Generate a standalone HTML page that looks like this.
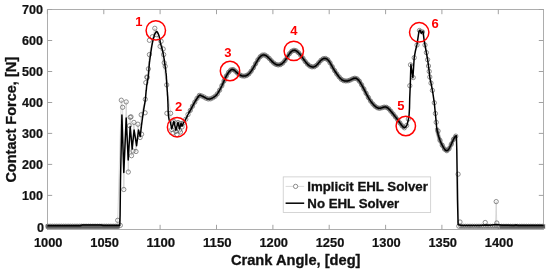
<!DOCTYPE html>
<html><head><meta charset="utf-8"><title>Contact Force vs Crank Angle</title>
<style>html,body{margin:0;padding:0;background:#fff}svg{display:block}</style></head>
<body>
<svg width="550" height="274" viewBox="0 0 550 274">
<rect width="550" height="274" fill="#fff"/>
<g fill="none" stroke="#adadad" stroke-width="1" shape-rendering="crispEdges">
<rect x="47.5" y="9.5" width="496.0" height="220.0"/>
</g>
<path d="M47.4 229.5V224.8 M47.4 9.5V14.2 M103.8 229.5V224.8 M103.8 9.5V14.2 M160.1 229.5V224.8 M160.1 9.5V14.2 M216.5 229.5V224.8 M216.5 9.5V14.2 M272.9 229.5V224.8 M272.9 9.5V14.2 M329.2 229.5V224.8 M329.2 9.5V14.2 M385.6 229.5V224.8 M385.6 9.5V14.2 M441.9 229.5V224.8 M441.9 9.5V14.2 M498.3 229.5V224.8 M498.3 9.5V14.2 M47.5 226.4H52.2 M543.5 226.4H538.8 M47.5 195.4H52.2 M543.5 195.4H538.8 M47.5 164.4H52.2 M543.5 164.4H538.8 M47.5 133.4H52.2 M543.5 133.4H538.8 M47.5 102.5H52.2 M543.5 102.5H538.8 M47.5 71.5H52.2 M543.5 71.5H538.8 M47.5 40.5H52.2 M543.5 40.5H538.8 M47.5 9.5H52.2 M543.5 9.5H538.8 " fill="none" stroke="#a2a2a2" stroke-width="1"/>
<g fill="none" stroke="#c8c8c8" stroke-width="0.7"><path d="M47.8 226.2 L116.5 226.2 L117.7 220.3 L121.3 100.2 L122.6 107.3 L123.8 189.5 L126.2 101.9 L128.3 172.0 L130.2 117.3 L131.5 155.7 L133.9 122.4 L136.0 151.5 L137.9 124.2 L140.1 137.5 L141.2 114.8 L145.3 99.3 L149.4 54.6 L154.8 28.3 L160.1 46.4 L166.7 84.9 L170.6 113.3 L171.8 129.5 L173.9 121.5 L175.9 131.5 L178.0 122.5 L179.5 130.0 L181.0 123.5 L182.0 127.0"/><path d="M458.1 174.2 L458.8 226.2 L495.5 226.2 L496.2 201.6 L496.8 226.2 L543.6 226.2"/></g>
<g fill="none" stroke-linecap="butt">
<path d="M45.8 226.5H119.6 M499.5 226.5H545.3" stroke="#b0b0b0" stroke-width="5.0"/>
<path d="M459.5 226.6H499.5" stroke="#c6c6c6" stroke-width="3.4"/>
<path d="M46.2 226.5H119.4 M500 226.5H545" stroke="#5c5c5c" stroke-width="3.7"/>
<path d="M189.0 112.6 L189.5 111.7 L190.0 110.9 L190.5 110.0 L191.0 109.1 L191.5 108.1 L192.0 107.2 L192.5 106.2 L193.0 105.3 L193.5 104.4 L194.0 103.4 L194.5 102.5 L195.0 101.7 L195.5 100.8 L196.0 100.0 L196.5 99.2 L197.0 98.5 L197.5 97.8 L198.0 97.0 L198.5 96.3 L199.0 95.7 L199.5 95.2 L200.0 95.2 L200.5 95.3 L201.0 95.6 L201.5 95.9 L202.0 96.1 L202.5 96.3 L203.0 96.5 L203.5 96.8 L204.0 97.0 L204.5 97.3 L205.0 97.6 L205.5 97.9 L206.0 98.2 L206.5 98.4 L207.0 98.7 L207.5 98.9 L208.0 99.0 L208.5 99.1 L209.0 99.1 L209.5 99.0 L210.0 98.9 L210.5 98.8 L211.0 98.6 L211.5 98.4 L212.0 98.2 L212.5 97.9 L213.0 97.7 L213.5 97.4 L214.0 97.0 L214.5 96.7 L215.0 96.3 L215.5 95.9 L216.0 95.5 L216.5 94.9 L217.0 94.3 L217.5 93.6 L218.0 92.9 L218.5 92.0 L219.0 91.2 L219.5 90.3 L220.0 89.4 L220.5 88.5 L221.0 87.5 L221.5 86.5 L222.0 85.5" stroke="#d4d4d4" stroke-width="3.7"/>
<path d="M189.0 112.6 L189.5 111.7 L190.0 110.9 L190.5 110.0 L191.0 109.1 L191.5 108.1 L192.0 107.2 L192.5 106.2 L193.0 105.3 L193.5 104.4 L194.0 103.4 L194.5 102.5 L195.0 101.7 L195.5 100.8 L196.0 100.0 L196.5 99.2 L197.0 98.5 L197.5 97.8 L198.0 97.0 L198.5 96.3 L199.0 95.7 L199.5 95.2 L200.0 95.2 L200.5 95.3 L201.0 95.6 L201.5 95.9 L202.0 96.1 L202.5 96.3 L203.0 96.5 L203.5 96.8 L204.0 97.0 L204.5 97.3 L205.0 97.6 L205.5 97.9 L206.0 98.2 L206.5 98.4 L207.0 98.7 L207.5 98.9 L208.0 99.0 L208.5 99.1 L209.0 99.1 L209.5 99.0 L210.0 98.9 L210.5 98.8 L211.0 98.6 L211.5 98.4 L212.0 98.2 L212.5 97.9 L213.0 97.7 L213.5 97.4 L214.0 97.0 L214.5 96.7 L215.0 96.3 L215.5 95.9 L216.0 95.5 L216.5 94.9 L217.0 94.3 L217.5 93.6 L218.0 92.9 L218.5 92.0 L219.0 91.2 L219.5 90.3 L220.0 89.4 L220.5 88.5 L221.0 87.5 L221.5 86.5 L222.0 85.5" stroke="#888" stroke-width="2.5"/>
<path d="M222.0 85.5 L222.5 84.4 L223.0 83.3 L223.5 82.2 L224.0 81.0 L224.5 79.8 L225.0 78.7 L225.5 77.6 L226.0 76.6 L226.5 75.7 L227.0 74.8 L227.5 74.0 L228.0 73.2 L228.5 72.5 L229.0 71.8 L229.5 71.2 L230.0 70.7 L230.5 70.2 L231.0 69.9 L231.5 69.6 L232.0 69.4 L232.5 69.4 L233.0 69.5 L233.5 69.7 L234.0 70.0 L234.5 70.3 L235.0 70.8 L235.5 71.2 L236.0 71.7 L236.5 72.2 L237.0 72.7 L237.5 73.1 L238.0 73.6 L238.5 74.0 L239.0 74.3 L239.5 74.7 L240.0 75.0 L240.5 75.3 L241.0 75.5 L241.5 75.7 L242.0 75.9 L242.5 76.0 L243.0 76.1 L243.5 76.1 L244.0 76.1 L244.5 76.1 L245.0 76.0 L245.5 75.9 L246.0 75.7 L246.5 75.5 L247.0 75.3 L247.5 75.0 L248.0 74.6 L248.5 74.2 L249.0 73.8 L249.5 73.2 L250.0 72.7 L250.5 72.1 L251.0 71.4 L251.5 70.7 L252.0 70.0 L252.5 69.2 L253.0 68.4 L253.5 67.5 L254.0 66.7 L254.5 65.8 L255.0 64.9 L255.5 63.9 L256.0 63.0 L256.5 62.1 L257.0 61.3 L257.5 60.4 L258.0 59.6 L258.5 58.8 L259.0 58.1 L259.5 57.5 L260.0 56.9 L260.5 56.4 L261.0 56.0 L261.5 55.6 L262.0 55.3 L262.5 55.1 L263.0 55.0 L263.5 54.9 L264.0 54.9 L264.5 55.0 L265.0 55.2 L265.5 55.4 L266.0 55.6 L266.5 56.0 L267.0 56.3 L267.5 56.8 L268.0 57.2 L268.5 57.7 L269.0 58.2 L269.5 58.7 L270.0 59.3 L270.5 59.8 L271.0 60.3 L271.5 60.9 L272.0 61.4 L272.5 61.9 L273.0 62.4 L273.5 62.8 L274.0 63.2 L274.5 63.6 L275.0 63.9 L275.5 64.2 L276.0 64.5 L276.5 64.7 L277.0 64.8 L277.5 64.9 L278.0 65.0 L278.5 65.0 L279.0 64.9 L279.5 64.9 L280.0 64.7 L280.5 64.5 L281.0 64.3 L281.5 64.0 L282.0 63.7 L282.5 63.3 L283.0 62.8 L283.5 62.3 L284.0 61.7 L284.5 61.1 L285.0 60.4 L285.5 59.7 L286.0 59.0 L286.5 58.2 L287.0 57.4 L287.5 56.6 L288.0 55.9 L288.5 55.1 L289.0 54.4 L289.5 53.7 L290.0 53.0 L290.5 52.4 L291.0 51.9 L291.5 51.4 L292.0 51.1 L292.5 50.7 L293.0 50.5 L293.5 50.4 L294.0 50.3 L294.5 50.3 L295.0 50.4 L295.5 50.5 L296.0 50.8 L296.5 51.0 L297.0 51.4 L297.5 51.8 L298.0 52.2 L298.5 52.7 L299.0 53.2 L299.5 53.8 L300.0 54.4 L300.5 55.0 L301.0 55.6 L301.5 56.3 L302.0 57.0 L302.5 57.7 L303.0 58.4 L303.5 59.1 L304.0 59.8 L304.5 60.5 L305.0 61.1 L305.5 61.8 L306.0 62.4 L306.5 63.0 L307.0 63.6 L307.5 64.1 L308.0 64.6 L308.5 65.1 L309.0 65.5 L309.5 65.8 L310.0 66.1 L310.5 66.4 L311.0 66.6 L311.5 66.7 L312.0 66.9 L312.5 66.9 L313.0 66.9 L313.5 66.9 L314.0 66.8 L314.5 66.6 L315.0 66.4 L315.5 66.1 L316.0 65.7 L316.5 65.3 L317.0 64.8 L317.5 64.3 L318.0 63.7 L318.5 63.1 L319.0 62.5 L319.5 61.9 L320.0 61.3 L320.5 60.8 L321.0 60.3 L321.5 59.8 L322.0 59.5 L322.5 59.1 L323.0 58.8 L323.5 58.6 L324.0 58.5 L324.5 58.4 L325.0 58.4 L325.5 58.5 L326.0 58.6 L326.5 58.9 L327.0 59.2 L327.5 59.5 L328.0 60.0 L328.5 60.6 L329.0 61.2 L329.5 61.9 L330.0 62.7 L330.5 63.5 L331.0 64.4 L331.5 65.3 L332.0 66.2 L332.5 67.1 L333.0 68.0 L333.5 68.9 L334.0 69.7 L334.5 70.5 L335.0 71.3 L335.5 72.0 L336.0 72.8 L336.5 73.5 L337.0 74.2 L337.5 74.9 L338.0 75.6 L338.5 76.2 L339.0 76.9 L339.5 77.5 L340.0 78.0 L340.5 78.5 L341.0 79.0 L341.5 79.4 L342.0 79.8 L342.5 80.1 L343.0 80.4 L343.5 80.6 L344.0 80.7 L344.5 80.9 L345.0 80.9 L345.5 81.0 L346.0 81.0 L346.5 81.0 L347.0 81.0 L347.5 80.9 L348.0 80.8 L348.5 80.7 L349.0 80.5 L349.5 80.4 L350.0 80.2 L350.5 79.9 L351.0 79.7 L351.5 79.4 L352.0 79.2 L352.5 78.9 L353.0 78.7 L353.5 78.5 L354.0 78.3 L354.5 78.2 L355.0 78.2 L355.5 78.2 L356.0 78.3 L356.5 78.5 L357.0 78.8 L357.5 79.2 L358.0 79.6 L358.5 80.1 L359.0 80.7 L359.5 81.4 L360.0 82.1 L360.5 82.9 L361.0 83.8 L361.5 84.6 L362.0 85.5 L362.5 86.4 L363.0 87.3 L363.5 88.3 L364.0 89.2 L364.5 90.2 L365.0 91.2 L365.5 92.1 L366.0 93.1 L366.5 94.1 L367.0 95.0 L367.5 95.9 L368.0 96.8 L368.5 97.7 L369.0 98.6 L369.5 99.4 L370.0 100.1 L370.5 100.9 L371.0 101.6 L371.5 102.3 L372.0 102.9 L372.5 103.5 L373.0 104.1 L373.5 104.7 L374.0 105.2 L374.5 105.7 L375.0 106.1 L375.5 106.6 L376.0 106.9 L376.5 107.3 L377.0 107.6 L377.5 107.8 L378.0 108.0 L378.5 108.2 L379.0 108.3 L379.5 108.3 L380.0 108.3 L380.5 108.2 L381.0 108.1 L381.5 107.9 L382.0 107.7 L382.5 107.6 L383.0 107.4 L383.5 107.2 L384.0 107.1 L384.5 107.0 L385.0 107.0 L385.5 107.0 L386.0 107.1 L386.5 107.3 L387.0 107.5 L387.5 107.8 L388.0 108.2 L388.5 108.6 L389.0 109.1 L389.5 109.6 L390.0 110.2 L390.5 110.8 L391.0 111.4 L391.5 112.0 L392.0 112.6 L392.5 113.2 L393.0 113.8 L393.5 114.5 L394.0 115.1 L394.5 115.7 L395.0 116.4 L395.5 117.0 L396.0 117.6 L396.5 118.3 L397.0 118.9 L397.5 119.6 L398.0 120.3 L398.5 121.0 L399.0 121.7 L399.5 122.4 L400.0 123.1 L400.5 123.7 L401.0 124.4 L401.5 125.1 L402.0 125.7 L402.5 126.2 L403.0 126.8 L403.5 127.2 L404.0 127.5 L404.5 127.8 M436.7 128.0 L437.2 130.5 L437.7 132.7 L438.2 134.7 L438.7 136.5 L439.2 138.1 L439.7 139.5 L440.2 140.8 L440.7 142.0 L441.2 143.1 L441.7 144.1 L442.2 145.2 L442.7 146.1 L443.2 147.0 L443.7 147.9 L444.2 148.6 L444.7 149.3 L445.2 149.9 L445.7 150.3 L446.2 150.6 L446.7 150.7 L447.2 150.6 L447.7 150.3 L448.2 149.8 L448.7 149.2 L449.2 148.4 L449.7 147.5 L450.2 146.5 L450.7 145.5 L451.2 144.4 L451.7 143.3 L452.2 142.1 L452.7 141.1 L453.2 140.0 L453.7 139.0 L454.2 138.1 L454.7 137.3 L455.2 136.6 L455.7 136.1 L456.2 135.8" stroke="#cacaca" stroke-width="4.2"/>
<path d="M222.0 85.5 L222.5 84.4 L223.0 83.3 L223.5 82.2 L224.0 81.0 L224.5 79.8 L225.0 78.7 L225.5 77.6 L226.0 76.6 L226.5 75.7 L227.0 74.8 L227.5 74.0 L228.0 73.2 L228.5 72.5 L229.0 71.8 L229.5 71.2 L230.0 70.7 L230.5 70.2 L231.0 69.9 L231.5 69.6 L232.0 69.4 L232.5 69.4 L233.0 69.5 L233.5 69.7 L234.0 70.0 L234.5 70.3 L235.0 70.8 L235.5 71.2 L236.0 71.7 L236.5 72.2 L237.0 72.7 L237.5 73.1 L238.0 73.6 L238.5 74.0 L239.0 74.3 L239.5 74.7 L240.0 75.0 L240.5 75.3 L241.0 75.5 L241.5 75.7 L242.0 75.9 L242.5 76.0 L243.0 76.1 L243.5 76.1 L244.0 76.1 L244.5 76.1 L245.0 76.0 L245.5 75.9 L246.0 75.7 L246.5 75.5 L247.0 75.3 L247.5 75.0 L248.0 74.6 L248.5 74.2 L249.0 73.8 L249.5 73.2 L250.0 72.7 L250.5 72.1 L251.0 71.4 L251.5 70.7 L252.0 70.0 L252.5 69.2 L253.0 68.4 L253.5 67.5 L254.0 66.7 L254.5 65.8 L255.0 64.9 L255.5 63.9 L256.0 63.0 L256.5 62.1 L257.0 61.3 L257.5 60.4 L258.0 59.6 L258.5 58.8 L259.0 58.1 L259.5 57.5 L260.0 56.9 L260.5 56.4 L261.0 56.0 L261.5 55.6 L262.0 55.3 L262.5 55.1 L263.0 55.0 L263.5 54.9 L264.0 54.9 L264.5 55.0 L265.0 55.2 L265.5 55.4 L266.0 55.6 L266.5 56.0 L267.0 56.3 L267.5 56.8 L268.0 57.2 L268.5 57.7 L269.0 58.2 L269.5 58.7 L270.0 59.3 L270.5 59.8 L271.0 60.3 L271.5 60.9 L272.0 61.4 L272.5 61.9 L273.0 62.4 L273.5 62.8 L274.0 63.2 L274.5 63.6 L275.0 63.9 L275.5 64.2 L276.0 64.5 L276.5 64.7 L277.0 64.8 L277.5 64.9 L278.0 65.0 L278.5 65.0 L279.0 64.9 L279.5 64.9 L280.0 64.7 L280.5 64.5 L281.0 64.3 L281.5 64.0 L282.0 63.7 L282.5 63.3 L283.0 62.8 L283.5 62.3 L284.0 61.7 L284.5 61.1 L285.0 60.4 L285.5 59.7 L286.0 59.0 L286.5 58.2 L287.0 57.4 L287.5 56.6 L288.0 55.9 L288.5 55.1 L289.0 54.4 L289.5 53.7 L290.0 53.0 L290.5 52.4 L291.0 51.9 L291.5 51.4 L292.0 51.1 L292.5 50.7 L293.0 50.5 L293.5 50.4 L294.0 50.3 L294.5 50.3 L295.0 50.4 L295.5 50.5 L296.0 50.8 L296.5 51.0 L297.0 51.4 L297.5 51.8 L298.0 52.2 L298.5 52.7 L299.0 53.2 L299.5 53.8 L300.0 54.4 L300.5 55.0 L301.0 55.6 L301.5 56.3 L302.0 57.0 L302.5 57.7 L303.0 58.4 L303.5 59.1 L304.0 59.8 L304.5 60.5 L305.0 61.1 L305.5 61.8 L306.0 62.4 L306.5 63.0 L307.0 63.6 L307.5 64.1 L308.0 64.6 L308.5 65.1 L309.0 65.5 L309.5 65.8 L310.0 66.1 L310.5 66.4 L311.0 66.6 L311.5 66.7 L312.0 66.9 L312.5 66.9 L313.0 66.9 L313.5 66.9 L314.0 66.8 L314.5 66.6 L315.0 66.4 L315.5 66.1 L316.0 65.7 L316.5 65.3 L317.0 64.8 L317.5 64.3 L318.0 63.7 L318.5 63.1 L319.0 62.5 L319.5 61.9 L320.0 61.3 L320.5 60.8 L321.0 60.3 L321.5 59.8 L322.0 59.5 L322.5 59.1 L323.0 58.8 L323.5 58.6 L324.0 58.5 L324.5 58.4 L325.0 58.4 L325.5 58.5 L326.0 58.6 L326.5 58.9 L327.0 59.2 L327.5 59.5 L328.0 60.0 L328.5 60.6 L329.0 61.2 L329.5 61.9 L330.0 62.7 L330.5 63.5 L331.0 64.4 L331.5 65.3 L332.0 66.2 L332.5 67.1 L333.0 68.0 L333.5 68.9 L334.0 69.7 L334.5 70.5 L335.0 71.3 L335.5 72.0 L336.0 72.8 L336.5 73.5 L337.0 74.2 L337.5 74.9 L338.0 75.6 L338.5 76.2 L339.0 76.9 L339.5 77.5 L340.0 78.0 L340.5 78.5 L341.0 79.0 L341.5 79.4 L342.0 79.8 L342.5 80.1 L343.0 80.4 L343.5 80.6 L344.0 80.7 L344.5 80.9 L345.0 80.9 L345.5 81.0 L346.0 81.0 L346.5 81.0 L347.0 81.0 L347.5 80.9 L348.0 80.8 L348.5 80.7 L349.0 80.5 L349.5 80.4 L350.0 80.2 L350.5 79.9 L351.0 79.7 L351.5 79.4 L352.0 79.2 L352.5 78.9 L353.0 78.7 L353.5 78.5 L354.0 78.3 L354.5 78.2 L355.0 78.2 L355.5 78.2 L356.0 78.3 L356.5 78.5 L357.0 78.8 L357.5 79.2 L358.0 79.6 L358.5 80.1 L359.0 80.7 L359.5 81.4 L360.0 82.1 L360.5 82.9 L361.0 83.8 L361.5 84.6 L362.0 85.5 L362.5 86.4 L363.0 87.3 L363.5 88.3 L364.0 89.2 L364.5 90.2 L365.0 91.2 L365.5 92.1 L366.0 93.1 L366.5 94.1 L367.0 95.0 L367.5 95.9 L368.0 96.8 L368.5 97.7 L369.0 98.6 L369.5 99.4 L370.0 100.1 L370.5 100.9 L371.0 101.6 L371.5 102.3 L372.0 102.9 L372.5 103.5 L373.0 104.1 L373.5 104.7 L374.0 105.2 L374.5 105.7 L375.0 106.1 L375.5 106.6 L376.0 106.9 L376.5 107.3 L377.0 107.6 L377.5 107.8 L378.0 108.0 L378.5 108.2 L379.0 108.3 L379.5 108.3 L380.0 108.3 L380.5 108.2 L381.0 108.1 L381.5 107.9 L382.0 107.7 L382.5 107.6 L383.0 107.4 L383.5 107.2 L384.0 107.1 L384.5 107.0 L385.0 107.0 L385.5 107.0 L386.0 107.1 L386.5 107.3 L387.0 107.5 L387.5 107.8 L388.0 108.2 L388.5 108.6 L389.0 109.1 L389.5 109.6 L390.0 110.2 L390.5 110.8 L391.0 111.4 L391.5 112.0 L392.0 112.6 L392.5 113.2 L393.0 113.8 L393.5 114.5 L394.0 115.1 L394.5 115.7 L395.0 116.4 L395.5 117.0 L396.0 117.6 L396.5 118.3 L397.0 118.9 L397.5 119.6 L398.0 120.3 L398.5 121.0 L399.0 121.7 L399.5 122.4 L400.0 123.1 L400.5 123.7 L401.0 124.4 L401.5 125.1 L402.0 125.7 L402.5 126.2 L403.0 126.8 L403.5 127.2 L404.0 127.5 L404.5 127.8 M436.7 128.0 L437.2 130.5 L437.7 132.7 L438.2 134.7 L438.7 136.5 L439.2 138.1 L439.7 139.5 L440.2 140.8 L440.7 142.0 L441.2 143.1 L441.7 144.1 L442.2 145.2 L442.7 146.1 L443.2 147.0 L443.7 147.9 L444.2 148.6 L444.7 149.3 L445.2 149.9 L445.7 150.3 L446.2 150.6 L446.7 150.7 L447.2 150.6 L447.7 150.3 L448.2 149.8 L448.7 149.2 L449.2 148.4 L449.7 147.5 L450.2 146.5 L450.7 145.5 L451.2 144.4 L451.7 143.3 L452.2 142.1 L452.7 141.1 L453.2 140.0 L453.7 139.0 L454.2 138.1 L454.7 137.3 L455.2 136.6 L455.7 136.1 L456.2 135.8" stroke="#7a7a7a" stroke-width="3.0"/>
</g>
<g fill="none" stroke="#606060" stroke-width="0.7">
<circle cx="47.8" cy="226.2" r="2.15"/>
<circle cx="50.1" cy="226.2" r="2.15"/>
<circle cx="52.3" cy="226.2" r="2.15"/>
<circle cx="54.6" cy="226.2" r="2.15"/>
<circle cx="56.8" cy="226.2" r="2.15"/>
<circle cx="59.1" cy="226.2" r="2.15"/>
<circle cx="61.3" cy="226.2" r="2.15"/>
<circle cx="63.6" cy="226.2" r="2.15"/>
<circle cx="65.8" cy="226.2" r="2.15"/>
<circle cx="68.1" cy="226.2" r="2.15"/>
<circle cx="70.3" cy="226.2" r="2.15"/>
<circle cx="72.6" cy="226.2" r="2.15"/>
<circle cx="74.9" cy="226.2" r="2.15"/>
<circle cx="77.1" cy="226.2" r="2.15"/>
<circle cx="79.4" cy="226.2" r="2.15"/>
<circle cx="81.6" cy="226.2" r="2.15"/>
<circle cx="83.9" cy="226.2" r="2.15"/>
<circle cx="86.1" cy="226.2" r="2.15"/>
<circle cx="88.4" cy="226.2" r="2.15"/>
<circle cx="90.6" cy="226.2" r="2.15"/>
<circle cx="92.9" cy="226.2" r="2.15"/>
<circle cx="95.1" cy="226.2" r="2.15"/>
<circle cx="97.4" cy="226.2" r="2.15"/>
<circle cx="99.7" cy="226.2" r="2.15"/>
<circle cx="101.9" cy="226.2" r="2.15"/>
<circle cx="104.2" cy="226.2" r="2.15"/>
<circle cx="106.4" cy="226.2" r="2.15"/>
<circle cx="108.7" cy="226.2" r="2.15"/>
<circle cx="110.9" cy="226.2" r="2.15"/>
<circle cx="113.2" cy="226.2" r="2.15"/>
<circle cx="115.4" cy="226.2" r="2.15"/>
<circle cx="117.7" cy="226.2" r="2.15"/>
<circle cx="117.7" cy="220.3" r="2.15"/>
<circle cx="120.3" cy="225.4" r="2.15"/>
<circle cx="121.3" cy="100.2" r="2.15"/>
<circle cx="122.6" cy="107.3" r="2.15"/>
<circle cx="123.8" cy="189.5" r="2.15"/>
<circle cx="126.2" cy="101.9" r="2.15"/>
<circle cx="128.3" cy="172.0" r="2.15"/>
<circle cx="129.5" cy="125.7" r="2.15"/>
<circle cx="130.2" cy="117.3" r="2.15"/>
<circle cx="131.5" cy="155.7" r="2.15"/>
<circle cx="133.0" cy="151.0" r="2.15"/>
<circle cx="133.9" cy="122.4" r="2.15"/>
<circle cx="136.0" cy="151.5" r="2.15"/>
<circle cx="137.9" cy="124.2" r="2.15"/>
<circle cx="140.1" cy="137.5" r="2.15"/>
<circle cx="141.6" cy="134.2" r="2.15"/>
<circle cx="131.0" cy="116.8" r="2.15"/>
<circle cx="141.2" cy="114.8" r="2.15"/>
<circle cx="145.1" cy="112.8" r="2.15"/>
<circle cx="145.3" cy="99.3" r="2.15"/>
<circle cx="145.8" cy="82.6" r="2.15"/>
<circle cx="147.3" cy="77.5" r="2.15"/>
<circle cx="146.8" cy="77.0" r="2.15"/>
<circle cx="148.4" cy="68.9" r="2.15"/>
<circle cx="149.4" cy="54.6" r="2.15"/>
<circle cx="149.4" cy="40.3" r="2.15"/>
<circle cx="152.4" cy="36.7" r="2.15"/>
<circle cx="154.8" cy="28.3" r="2.15"/>
<circle cx="156.5" cy="34.7" r="2.15"/>
<circle cx="160.1" cy="46.4" r="2.15"/>
<circle cx="161.1" cy="41.3" r="2.15"/>
<circle cx="163.2" cy="49.0" r="2.15"/>
<circle cx="163.7" cy="54.6" r="2.15"/>
<circle cx="164.2" cy="62.8" r="2.15"/>
<circle cx="165.2" cy="66.3" r="2.15"/>
<circle cx="166.7" cy="84.9" r="2.15"/>
<circle cx="166.9" cy="113.3" r="2.15"/>
<circle cx="170.6" cy="113.3" r="2.15"/>
<circle cx="171.8" cy="129.5" r="2.15"/>
<circle cx="173.9" cy="121.5" r="2.15"/>
<circle cx="175.9" cy="131.5" r="2.15"/>
<circle cx="178.0" cy="122.5" r="2.15"/>
<circle cx="179.5" cy="130.0" r="2.15"/>
<circle cx="181.0" cy="123.5" r="2.15"/>
<circle cx="182.0" cy="127.0" r="2.15"/>
<circle cx="173.0" cy="133.0" r="2.15"/>
<circle cx="177.0" cy="134.5" r="2.15"/>
<circle cx="180.5" cy="132.0" r="2.15"/>
<circle cx="183.5" cy="123.0" r="2.15"/>
<circle cx="185.8" cy="119.2" r="2.15"/>
<circle cx="188.0" cy="114.5" r="2.15"/>
<circle cx="190.3" cy="110.4" r="2.15"/>
<circle cx="192.5" cy="106.2" r="2.15"/>
<circle cx="194.8" cy="102.1" r="2.15"/>
<circle cx="197.0" cy="98.4" r="2.15"/>
<circle cx="199.3" cy="95.4" r="2.15"/>
<circle cx="201.5" cy="95.9" r="2.15"/>
<circle cx="203.8" cy="96.9" r="2.15"/>
<circle cx="206.0" cy="98.2" r="2.15"/>
<circle cx="208.3" cy="99.0" r="2.15"/>
<circle cx="210.6" cy="98.8" r="2.15"/>
<circle cx="212.8" cy="97.8" r="2.15"/>
<circle cx="215.1" cy="96.3" r="2.15"/>
<circle cx="217.3" cy="93.9" r="2.15"/>
<circle cx="219.6" cy="90.2" r="2.15"/>
<circle cx="221.8" cy="85.8" r="2.15"/>
<circle cx="224.1" cy="80.8" r="2.15"/>
<circle cx="226.3" cy="76.0" r="2.15"/>
<circle cx="228.6" cy="72.3" r="2.15"/>
<circle cx="230.8" cy="70.0" r="2.15"/>
<circle cx="233.1" cy="69.5" r="2.15"/>
<circle cx="235.4" cy="71.1" r="2.15"/>
<circle cx="237.6" cy="73.2" r="2.15"/>
<circle cx="239.9" cy="74.9" r="2.15"/>
<circle cx="242.1" cy="75.9" r="2.15"/>
<circle cx="244.4" cy="76.1" r="2.15"/>
<circle cx="246.6" cy="75.5" r="2.15"/>
<circle cx="248.9" cy="73.9" r="2.15"/>
<circle cx="251.1" cy="71.2" r="2.15"/>
<circle cx="253.4" cy="67.7" r="2.15"/>
<circle cx="255.6" cy="63.7" r="2.15"/>
<circle cx="257.9" cy="59.8" r="2.15"/>
<circle cx="260.2" cy="56.7" r="2.15"/>
<circle cx="262.4" cy="55.1" r="2.15"/>
<circle cx="264.7" cy="55.0" r="2.15"/>
<circle cx="266.9" cy="56.3" r="2.15"/>
<circle cx="269.2" cy="58.4" r="2.15"/>
<circle cx="271.4" cy="60.8" r="2.15"/>
<circle cx="273.7" cy="63.0" r="2.15"/>
<circle cx="275.9" cy="64.4" r="2.15"/>
<circle cx="278.2" cy="65.0" r="2.15"/>
<circle cx="280.4" cy="64.6" r="2.15"/>
<circle cx="282.7" cy="63.1" r="2.15"/>
<circle cx="285.0" cy="60.5" r="2.15"/>
<circle cx="287.2" cy="57.1" r="2.15"/>
<circle cx="289.5" cy="53.7" r="2.15"/>
<circle cx="291.7" cy="51.3" r="2.15"/>
<circle cx="294.0" cy="50.3" r="2.15"/>
<circle cx="296.2" cy="50.9" r="2.15"/>
<circle cx="298.5" cy="52.7" r="2.15"/>
<circle cx="300.7" cy="55.3" r="2.15"/>
<circle cx="303.0" cy="58.3" r="2.15"/>
<circle cx="305.2" cy="61.5" r="2.15"/>
<circle cx="307.5" cy="64.1" r="2.15"/>
<circle cx="309.8" cy="66.0" r="2.15"/>
<circle cx="312.0" cy="66.9" r="2.15"/>
<circle cx="314.3" cy="66.7" r="2.15"/>
<circle cx="316.5" cy="65.3" r="2.15"/>
<circle cx="318.8" cy="62.8" r="2.15"/>
<circle cx="321.0" cy="60.3" r="2.15"/>
<circle cx="323.3" cy="58.7" r="2.15"/>
<circle cx="325.5" cy="58.5" r="2.15"/>
<circle cx="327.8" cy="59.8" r="2.15"/>
<circle cx="330.0" cy="62.8" r="2.15"/>
<circle cx="332.3" cy="66.8" r="2.15"/>
<circle cx="334.6" cy="70.6" r="2.15"/>
<circle cx="336.8" cy="74.0" r="2.15"/>
<circle cx="339.1" cy="76.9" r="2.15"/>
<circle cx="341.3" cy="79.3" r="2.15"/>
<circle cx="343.6" cy="80.6" r="2.15"/>
<circle cx="345.8" cy="81.0" r="2.15"/>
<circle cx="348.1" cy="80.8" r="2.15"/>
<circle cx="350.3" cy="80.0" r="2.15"/>
<circle cx="352.6" cy="78.9" r="2.15"/>
<circle cx="354.8" cy="78.2" r="2.15"/>
<circle cx="357.1" cy="78.9" r="2.15"/>
<circle cx="359.4" cy="81.2" r="2.15"/>
<circle cx="361.6" cy="84.8" r="2.15"/>
<circle cx="363.9" cy="89.0" r="2.15"/>
<circle cx="366.1" cy="93.3" r="2.15"/>
<circle cx="368.4" cy="97.5" r="2.15"/>
<circle cx="370.6" cy="101.1" r="2.15"/>
<circle cx="372.9" cy="104.0" r="2.15"/>
<circle cx="375.1" cy="106.3" r="2.15"/>
<circle cx="377.4" cy="107.8" r="2.15"/>
<circle cx="379.6" cy="108.3" r="2.15"/>
<circle cx="381.9" cy="107.8" r="2.15"/>
<circle cx="384.2" cy="107.1" r="2.15"/>
<circle cx="386.4" cy="107.3" r="2.15"/>
<circle cx="388.7" cy="108.8" r="2.15"/>
<circle cx="390.9" cy="111.3" r="2.15"/>
<circle cx="393.2" cy="114.1" r="2.15"/>
<circle cx="395.4" cy="116.9" r="2.15"/>
<circle cx="397.7" cy="119.8" r="2.15"/>
<circle cx="399.9" cy="123.0" r="2.15"/>
<circle cx="402.2" cy="125.9" r="2.15"/>
<circle cx="404.4" cy="127.8" r="2.15"/>
<circle cx="406.6" cy="125.5" r="2.15"/>
<circle cx="408.3" cy="119.0" r="2.15"/>
<circle cx="409.8" cy="85.7" r="2.15"/>
<circle cx="410.5" cy="64.8" r="2.15"/>
<circle cx="413.2" cy="77.6" r="2.15"/>
<circle cx="414.2" cy="57.7" r="2.15"/>
<circle cx="417.0" cy="45.0" r="2.15"/>
<circle cx="419.5" cy="30.5" r="2.15"/>
<circle cx="422.5" cy="32.0" r="2.15"/>
<circle cx="438.1" cy="131.0" r="2.15"/>
<circle cx="425.0" cy="45.0" r="2.15"/>
<circle cx="426.4" cy="52.6" r="2.15"/>
<circle cx="427.6" cy="59.7" r="2.15"/>
<circle cx="428.5" cy="66.0" r="2.15"/>
<circle cx="429.2" cy="71.4" r="2.15"/>
<circle cx="429.8" cy="77.0" r="2.15"/>
<circle cx="431.0" cy="83.1" r="2.15"/>
<circle cx="432.4" cy="90.4" r="2.15"/>
<circle cx="434.3" cy="102.8" r="2.15"/>
<circle cx="435.4" cy="113.5" r="2.15"/>
<circle cx="436.2" cy="122.3" r="2.15"/>
<circle cx="440.0" cy="140.3" r="2.15"/>
<circle cx="442.3" cy="145.3" r="2.15"/>
<circle cx="444.5" cy="149.0" r="2.15"/>
<circle cx="446.8" cy="150.7" r="2.15"/>
<circle cx="449.0" cy="148.7" r="2.15"/>
<circle cx="451.3" cy="144.2" r="2.15"/>
<circle cx="453.5" cy="139.3" r="2.15"/>
<circle cx="455.8" cy="136.1" r="2.15"/>
<circle cx="458.1" cy="174.2" r="2.15"/>
<circle cx="460.0" cy="222.0" r="2.15"/>
<circle cx="458.8" cy="226.2" r="2.15"/>
<circle cx="461.0" cy="226.3" r="2.15"/>
<circle cx="463.3" cy="226.3" r="2.15"/>
<circle cx="465.5" cy="226.3" r="2.15"/>
<circle cx="467.8" cy="226.3" r="2.15"/>
<circle cx="470.0" cy="226.3" r="2.15"/>
<circle cx="472.3" cy="226.3" r="2.15"/>
<circle cx="474.5" cy="226.3" r="2.15"/>
<circle cx="476.8" cy="226.3" r="2.15"/>
<circle cx="479.0" cy="226.3" r="2.15"/>
<circle cx="481.3" cy="226.3" r="2.15"/>
<circle cx="483.5" cy="226.3" r="2.15"/>
<circle cx="485.8" cy="226.3" r="2.15"/>
<circle cx="488.1" cy="226.3" r="2.15"/>
<circle cx="490.3" cy="226.3" r="2.15"/>
<circle cx="492.6" cy="226.3" r="2.15"/>
<circle cx="494.8" cy="226.3" r="2.15"/>
<circle cx="497.1" cy="226.3" r="2.15"/>
<circle cx="499.3" cy="226.3" r="2.15"/>
<circle cx="501.6" cy="226.3" r="2.15"/>
<circle cx="503.8" cy="226.3" r="2.15"/>
<circle cx="506.1" cy="226.3" r="2.15"/>
<circle cx="508.3" cy="226.3" r="2.15"/>
<circle cx="510.6" cy="226.3" r="2.15"/>
<circle cx="512.9" cy="226.3" r="2.15"/>
<circle cx="515.1" cy="226.3" r="2.15"/>
<circle cx="517.4" cy="226.3" r="2.15"/>
<circle cx="519.6" cy="226.3" r="2.15"/>
<circle cx="521.9" cy="226.3" r="2.15"/>
<circle cx="524.1" cy="226.3" r="2.15"/>
<circle cx="526.4" cy="226.3" r="2.15"/>
<circle cx="528.6" cy="226.3" r="2.15"/>
<circle cx="530.9" cy="226.3" r="2.15"/>
<circle cx="533.1" cy="226.3" r="2.15"/>
<circle cx="535.4" cy="226.3" r="2.15"/>
<circle cx="537.7" cy="226.3" r="2.15"/>
<circle cx="539.9" cy="226.3" r="2.15"/>
<circle cx="542.2" cy="226.3" r="2.15"/>
<circle cx="485.2" cy="222.5" r="2.15"/>
<circle cx="496.2" cy="201.6" r="2.15"/>
<circle cx="496.8" cy="223.0" r="2.15"/>
</g>
<path d="M47.5 225.8 L80.5 225.8 L82.0 225.1 L101.0 225.1 L103.0 225.6 L119.8 225.6 L120.1 215.0 L120.5 180.0 L121.9 115.0 L123.8 172.5 L126.2 118.0 L128.2 160.0 L130.2 126.5 L132.2 149.0 L134.1 130.0 L136.6 145.7 L138.5 130.0 L140.2 136.5 L140.2 136.5 L140.3 135.4 L140.5 134.2 L140.6 133.1 L140.7 132.0 L140.9 130.8 L141.0 129.7 L141.1 128.6 L141.3 127.5 L141.4 126.3 L141.5 125.2 L141.7 124.1 L141.8 122.9 L142.0 121.8 L142.1 120.7 L142.3 119.6 L142.4 118.4 L142.6 117.3 L142.7 116.2 L142.9 115.0 L143.1 113.9 L143.2 112.8 L143.4 111.7 L143.6 110.5 L143.7 109.4 L143.9 108.3 L144.1 107.2 L144.3 106.1 L144.5 104.9 L144.7 103.8 L144.9 102.7 L145.1 101.6 L145.2 100.4 L145.4 99.3 L145.5 98.2 L145.6 97.1 L145.7 95.9 L145.8 94.8 L145.9 93.6 L146.0 92.5 L146.1 91.4 L146.3 90.2 L146.4 89.1 L146.5 88.0 L146.6 86.8 L146.7 85.7 L146.9 84.6 L147.1 83.5 L147.3 82.4 L147.5 81.2 L147.7 80.1 L147.9 79.0 L148.1 77.9 L148.3 76.7 L148.4 75.6 L148.5 74.5 L148.6 73.4 L148.7 72.2 L148.8 71.1 L148.9 70.0 L148.9 68.8 L149.0 67.7 L149.1 66.5 L149.2 65.4 L149.3 64.3 L149.4 63.1 L149.5 62.0 L149.7 60.9 L149.8 59.8 L150.0 58.6 L150.1 57.5 L150.3 56.4 L150.4 55.2 L150.6 54.1 L150.8 53.0 L150.9 51.9 L151.1 50.7 L151.3 49.6 L151.4 48.5 L151.6 47.4 L151.8 46.2 L152.0 45.1 L152.2 44.0 L152.4 42.9 L152.7 41.8 L152.9 40.7 L153.2 39.5 L153.4 38.4 L153.7 37.3 L154.1 36.2 L154.4 35.1 L154.8 34.1 L155.3 33.0 L156.1 31.9 L156.8 31.4 L157.4 32.2 L158.0 33.4 L158.5 34.5 L158.9 35.5 L159.2 36.6 L159.5 37.7 L159.7 38.8 L159.9 39.9 L160.1 41.1 L160.3 42.2 L160.6 43.3 L160.8 44.4 L161.1 45.5 L161.5 46.6 L161.8 47.7 L162.1 48.8 L162.4 49.9 L162.7 51.0 L162.9 52.1 L163.1 53.2 L163.3 54.3 L163.5 55.4 L163.7 56.6 L163.9 57.7 L164.1 58.8 L164.2 60.0 L164.4 61.1 L164.5 62.2 L164.7 63.3 L164.9 64.5 L165.0 65.6 L165.2 66.7 L165.4 67.8 L165.5 69.0 L165.7 70.1 L165.8 71.2 L165.9 72.4 L166.1 73.5 L166.2 74.6 L166.3 75.8 L166.4 76.9 L166.4 78.0 L166.5 79.2 L166.6 80.3 L166.7 81.4 L166.7 82.6 L166.8 83.7 L166.9 84.8 L166.9 86.0 L167.0 87.1 L167.1 88.2 L167.1 89.4 L167.2 90.5 L167.3 91.7 L167.4 92.8 L167.4 93.9 L167.5 95.1 L167.6 96.2 L167.7 97.3 L167.7 98.5 L167.8 99.6 L167.8 100.7 L167.9 101.9 L167.9 103.0 L168.0 104.2 L168.0 105.3 L168.0 106.4 L168.1 107.6 L168.1 108.7 L168.1 109.9 L168.2 111.0 L168.2 112.1 L168.3 113.3 L168.4 114.4 L168.5 115.6 L168.6 116.7 L168.8 117.9 L169.0 119.0 L169.2 120.0 L169.6 121.1 L170.3 122.0 L170.3 122.0 L171.8 128.9 L173.9 121.2 L175.9 130.4 L178.0 122.2 L179.5 128.9 L181.0 123.3 L182.0 126.3 L182.0 126.3 L182.5 125.0 L183.0 123.9 L183.5 123.0 L184.0 122.2 L184.5 121.4 L185.0 120.5 L185.5 119.7 L186.0 118.7 L186.5 117.7 L187.0 116.6 L187.5 115.5 L188.0 114.5 L188.5 113.5 L189.0 112.6 L189.5 111.7 L190.0 110.9 L190.5 110.0 L191.0 109.1 L191.5 108.1 L192.0 107.2 L192.5 106.2 L193.0 105.3 L193.5 104.4 L194.0 103.4 L194.5 102.5 L195.0 101.7 L195.5 100.8 L196.0 100.0 L196.5 99.2 L197.0 98.5 L197.5 97.8 L198.0 97.0 L198.5 96.3 L199.0 95.7 L199.5 95.2 L200.0 95.2 L200.5 95.3 L201.0 95.6 L201.5 95.9 L202.0 96.1 L202.5 96.3 L203.0 96.5 L203.5 96.8 L204.0 97.0 L204.5 97.3 L205.0 97.6 L205.5 97.9 L206.0 98.2 L206.5 98.4 L207.0 98.7 L207.5 98.9 L208.0 99.0 L208.5 99.1 L209.0 99.1 L209.5 99.0 L210.0 98.9 L210.5 98.8 L211.0 98.6 L211.5 98.4 L212.0 98.2 L212.5 97.9 L213.0 97.7 L213.5 97.4 L214.0 97.0 L214.5 96.7 L215.0 96.3 L215.5 95.9 L216.0 95.5 L216.5 94.9 L217.0 94.3 L217.5 93.6 L218.0 92.9 L218.5 92.0 L219.0 91.2 L219.5 90.3 L220.0 89.4 L220.5 88.5 L221.0 87.5 L221.5 86.5 L222.0 85.5 L222.5 84.4 L223.0 83.3 L223.5 82.2 L224.0 81.0 L224.5 79.8 L225.0 78.7 L225.5 77.6 L226.0 76.6 L226.5 75.7 L227.0 74.8 L227.5 74.0 L228.0 73.2 L228.5 72.5 L229.0 71.8 L229.5 71.2 L230.0 70.7 L230.5 70.2 L231.0 69.9 L231.5 69.6 L232.0 69.4 L232.5 69.4 L233.0 69.5 L233.5 69.7 L234.0 70.0 L234.5 70.3 L235.0 70.8 L235.5 71.2 L236.0 71.7 L236.5 72.2 L237.0 72.7 L237.5 73.1 L238.0 73.6 L238.5 74.0 L239.0 74.3 L239.5 74.7 L240.0 75.0 L240.5 75.3 L241.0 75.5 L241.5 75.7 L242.0 75.9 L242.5 76.0 L243.0 76.1 L243.5 76.1 L244.0 76.1 L244.5 76.1 L245.0 76.0 L245.5 75.9 L246.0 75.7 L246.5 75.5 L247.0 75.3 L247.5 75.0 L248.0 74.6 L248.5 74.2 L249.0 73.8 L249.5 73.2 L250.0 72.7 L250.5 72.1 L251.0 71.4 L251.5 70.7 L252.0 70.0 L252.5 69.2 L253.0 68.4 L253.5 67.5 L254.0 66.7 L254.5 65.8 L255.0 64.9 L255.5 63.9 L256.0 63.0 L256.5 62.1 L257.0 61.3 L257.5 60.4 L258.0 59.6 L258.5 58.8 L259.0 58.1 L259.5 57.5 L260.0 56.9 L260.5 56.4 L261.0 56.0 L261.5 55.6 L262.0 55.3 L262.5 55.1 L263.0 55.0 L263.5 54.9 L264.0 54.9 L264.5 55.0 L265.0 55.2 L265.5 55.4 L266.0 55.6 L266.5 56.0 L267.0 56.3 L267.5 56.8 L268.0 57.2 L268.5 57.7 L269.0 58.2 L269.5 58.7 L270.0 59.3 L270.5 59.8 L271.0 60.3 L271.5 60.9 L272.0 61.4 L272.5 61.9 L273.0 62.4 L273.5 62.8 L274.0 63.2 L274.5 63.6 L275.0 63.9 L275.5 64.2 L276.0 64.5 L276.5 64.7 L277.0 64.8 L277.5 64.9 L278.0 65.0 L278.5 65.0 L279.0 64.9 L279.5 64.9 L280.0 64.7 L280.5 64.5 L281.0 64.3 L281.5 64.0 L282.0 63.7 L282.5 63.3 L283.0 62.8 L283.5 62.3 L284.0 61.7 L284.5 61.1 L285.0 60.4 L285.5 59.7 L286.0 59.0 L286.5 58.2 L287.0 57.4 L287.5 56.6 L288.0 55.9 L288.5 55.1 L289.0 54.4 L289.5 53.7 L290.0 53.0 L290.5 52.4 L291.0 51.9 L291.5 51.4 L292.0 51.1 L292.5 50.7 L293.0 50.5 L293.5 50.4 L294.0 50.3 L294.5 50.3 L295.0 50.4 L295.5 50.5 L296.0 50.8 L296.5 51.0 L297.0 51.4 L297.5 51.8 L298.0 52.2 L298.5 52.7 L299.0 53.2 L299.5 53.8 L300.0 54.4 L300.5 55.0 L301.0 55.6 L301.5 56.3 L302.0 57.0 L302.5 57.7 L303.0 58.4 L303.5 59.1 L304.0 59.8 L304.5 60.5 L305.0 61.1 L305.5 61.8 L306.0 62.4 L306.5 63.0 L307.0 63.6 L307.5 64.1 L308.0 64.6 L308.5 65.1 L309.0 65.5 L309.5 65.8 L310.0 66.1 L310.5 66.4 L311.0 66.6 L311.5 66.7 L312.0 66.9 L312.5 66.9 L313.0 66.9 L313.5 66.9 L314.0 66.8 L314.5 66.6 L315.0 66.4 L315.5 66.1 L316.0 65.7 L316.5 65.3 L317.0 64.8 L317.5 64.3 L318.0 63.7 L318.5 63.1 L319.0 62.5 L319.5 61.9 L320.0 61.3 L320.5 60.8 L321.0 60.3 L321.5 59.8 L322.0 59.5 L322.5 59.1 L323.0 58.8 L323.5 58.6 L324.0 58.5 L324.5 58.4 L325.0 58.4 L325.5 58.5 L326.0 58.6 L326.5 58.9 L327.0 59.2 L327.5 59.5 L328.0 60.0 L328.5 60.6 L329.0 61.2 L329.5 61.9 L330.0 62.7 L330.5 63.5 L331.0 64.4 L331.5 65.3 L332.0 66.2 L332.5 67.1 L333.0 68.0 L333.5 68.9 L334.0 69.7 L334.5 70.5 L335.0 71.3 L335.5 72.0 L336.0 72.8 L336.5 73.5 L337.0 74.2 L337.5 74.9 L338.0 75.6 L338.5 76.2 L339.0 76.9 L339.5 77.5 L340.0 78.0 L340.5 78.5 L341.0 79.0 L341.5 79.4 L342.0 79.8 L342.5 80.1 L343.0 80.4 L343.5 80.6 L344.0 80.7 L344.5 80.9 L345.0 80.9 L345.5 81.0 L346.0 81.0 L346.5 81.0 L347.0 81.0 L347.5 80.9 L348.0 80.8 L348.5 80.7 L349.0 80.5 L349.5 80.4 L350.0 80.2 L350.5 79.9 L351.0 79.7 L351.5 79.4 L352.0 79.2 L352.5 78.9 L353.0 78.7 L353.5 78.5 L354.0 78.3 L354.5 78.2 L355.0 78.2 L355.5 78.2 L356.0 78.3 L356.5 78.5 L357.0 78.8 L357.5 79.2 L358.0 79.6 L358.5 80.1 L359.0 80.7 L359.5 81.4 L360.0 82.1 L360.5 82.9 L361.0 83.8 L361.5 84.6 L362.0 85.5 L362.5 86.4 L363.0 87.3 L363.5 88.3 L364.0 89.2 L364.5 90.2 L365.0 91.2 L365.5 92.1 L366.0 93.1 L366.5 94.1 L367.0 95.0 L367.5 95.9 L368.0 96.8 L368.5 97.7 L369.0 98.6 L369.5 99.4 L370.0 100.1 L370.5 100.9 L371.0 101.6 L371.5 102.3 L372.0 102.9 L372.5 103.5 L373.0 104.1 L373.5 104.7 L374.0 105.2 L374.5 105.7 L375.0 106.1 L375.5 106.6 L376.0 106.9 L376.5 107.3 L377.0 107.6 L377.5 107.8 L378.0 108.0 L378.5 108.2 L379.0 108.3 L379.5 108.3 L380.0 108.3 L380.5 108.2 L381.0 108.1 L381.5 107.9 L382.0 107.7 L382.5 107.6 L383.0 107.4 L383.5 107.2 L384.0 107.1 L384.5 107.0 L385.0 107.0 L385.5 107.0 L386.0 107.1 L386.5 107.3 L387.0 107.5 L387.5 107.8 L388.0 108.2 L388.5 108.6 L389.0 109.1 L389.5 109.6 L390.0 110.2 L390.5 110.8 L391.0 111.4 L391.5 112.0 L392.0 112.6 L392.5 113.2 L393.0 113.8 L393.5 114.5 L394.0 115.1 L394.5 115.7 L395.0 116.4 L395.5 117.0 L396.0 117.6 L396.5 118.3 L397.0 118.9 L397.5 119.6 L398.0 120.3 L398.5 121.0 L399.0 121.7 L399.5 122.4 L400.0 123.1 L400.5 123.7 L401.0 124.4 L401.5 125.1 L402.0 125.7 L402.5 126.2 L403.0 126.8 L403.5 127.2 L404.0 127.5 L404.5 127.8 L404.9 127.9 L406.9 125.3 L408.3 120.0 L409.1 115.0 L409.5 108.0 L409.7 99.0 L410.3 84.2 L410.9 64.3 L412.9 77.8 L414.2 57.7 L415.4 51.0 L417.0 44.4 L419.0 31.1 L420.0 30.1 L421.3 33.2 L423.0 31.1 L424.1 40.0 L425.9 50.0 L427.7 60.0 L429.0 70.0 L429.9 78.0 L431.4 85.0 L432.8 92.6 L434.3 102.8 L435.2 112.0 L435.8 118.0 L436.7 128.0 L436.7 128.0 L437.2 130.5 L437.7 132.7 L438.2 134.7 L438.7 136.5 L439.2 138.1 L439.7 139.5 L440.2 140.8 L440.7 142.0 L441.2 143.1 L441.7 144.1 L442.2 145.2 L442.7 146.1 L443.2 147.0 L443.7 147.9 L444.2 148.6 L444.7 149.3 L445.2 149.9 L445.7 150.3 L446.2 150.6 L446.7 150.7 L447.2 150.6 L447.7 150.3 L448.2 149.8 L448.7 149.2 L449.2 148.4 L449.7 147.5 L450.2 146.5 L450.7 145.5 L451.2 144.4 L451.7 143.3 L452.2 142.1 L452.7 141.1 L453.2 140.0 L453.7 139.0 L454.2 138.1 L454.7 137.3 L455.2 136.6 L455.7 136.1 L456.2 135.8 L456.4 135.7 L456.8 150.0 L457.5 200.0 L458.1 224.3 L458.3 224.8 L462.0 225.4 L480.0 225.5 L486.0 225.0 L490.0 225.2 L496.0 224.6 L502.0 225.3 L514.0 225.4 L516.0 225.0 L518.0 225.4 L543.6 225.4" fill="none" stroke="#000" stroke-width="1.5" stroke-linejoin="round"/>
<g font-family="'Liberation Sans', Arial, sans-serif" font-weight="bold" font-size="12.2px" fill="#111" stroke="#111" stroke-width="0.2">
<text x="33.9" y="246.9" textLength="28.6" lengthAdjust="spacingAndGlyphs">1000</text>
<text x="90.3" y="246.9" textLength="28.6" lengthAdjust="spacingAndGlyphs">1050</text>
<text x="146.6" y="246.9" textLength="28.6" lengthAdjust="spacingAndGlyphs">1100</text>
<text x="203.0" y="246.9" textLength="28.6" lengthAdjust="spacingAndGlyphs">1150</text>
<text x="259.4" y="246.9" textLength="28.6" lengthAdjust="spacingAndGlyphs">1200</text>
<text x="315.7" y="246.9" textLength="28.6" lengthAdjust="spacingAndGlyphs">1250</text>
<text x="372.1" y="246.9" textLength="28.6" lengthAdjust="spacingAndGlyphs">1300</text>
<text x="428.4" y="246.9" textLength="28.6" lengthAdjust="spacingAndGlyphs">1350</text>
<text x="484.8" y="246.9" textLength="28.6" lengthAdjust="spacingAndGlyphs">1400</text>
<text x="36.9" y="231.6" textLength="7.0" lengthAdjust="spacingAndGlyphs">0</text>
<text x="22.0" y="199.9" textLength="21.0" lengthAdjust="spacingAndGlyphs">100</text>
<text x="22.0" y="168.9" textLength="21.0" lengthAdjust="spacingAndGlyphs">200</text>
<text x="22.0" y="137.9" textLength="21.0" lengthAdjust="spacingAndGlyphs">300</text>
<text x="22.0" y="106.9" textLength="21.0" lengthAdjust="spacingAndGlyphs">400</text>
<text x="22.0" y="75.9" textLength="21.0" lengthAdjust="spacingAndGlyphs">500</text>
<text x="22.0" y="44.9" textLength="21.0" lengthAdjust="spacingAndGlyphs">600</text>
<text x="22.0" y="14.2" textLength="21.0" lengthAdjust="spacingAndGlyphs">700</text>
</g>
<g font-family="'Liberation Sans', Arial, sans-serif" font-weight="bold" font-size="13.9px" fill="#111" stroke="#111" stroke-width="0.3">
<text x="230.9" y="265.2" textLength="129.6" lengthAdjust="spacingAndGlyphs">Crank Angle, [deg]</text>
<text transform="translate(16.1,182.6) rotate(-90)" textLength="125.6" lengthAdjust="spacingAndGlyphs">Contact Force, [N]</text>
</g>
<rect x="283.2" y="176.9" width="147.5" height="35.5" fill="#fff" stroke="#c4c4c4" stroke-width="0.7"/>
<path d="M285.6 186.4H304.2" stroke="#c8c8c8" stroke-width="0.7"/>
<circle cx="295.6" cy="186.4" r="2.15" fill="#fff" stroke="#606060" stroke-width="0.7"/>
<path d="M285.6 203.2H304.2" stroke="#000" stroke-width="1.5"/>
<g font-family="'Liberation Sans', Arial, sans-serif" font-weight="bold" font-size="12.3px" fill="#111" stroke="#111" stroke-width="0.3">
<text x="307.3" y="191.2" textLength="120.6" lengthAdjust="spacingAndGlyphs">Implicit EHL Solver</text>
<text x="307.3" y="208.2" textLength="91.9" lengthAdjust="spacingAndGlyphs">No EHL Solver</text>
</g>
<g fill="none" stroke="#f00" stroke-width="1.5">
<circle cx="155.8" cy="30.4" r="9.7"/>
<circle cx="177.1" cy="127.2" r="9.7"/>
<circle cx="230.0" cy="71.0" r="9.7"/>
<circle cx="293.8" cy="50.9" r="9.7"/>
<circle cx="405.8" cy="126.0" r="9.7"/>
<circle cx="419.2" cy="32.3" r="9.7"/>
</g>
<g font-family="'Liberation Sans', Arial, sans-serif" font-weight="bold" font-size="13px" fill="#f00" text-anchor="middle">
<text x="138.9" y="25.7">1</text>
<text x="178.5" y="110.6">2</text>
<text x="227.8" y="56.6">3</text>
<text x="293.8" y="35.0">4</text>
<text x="400.9" y="110.0">5</text>
<text x="435.2" y="27.5">6</text>
</g>
</svg>
</body></html>
